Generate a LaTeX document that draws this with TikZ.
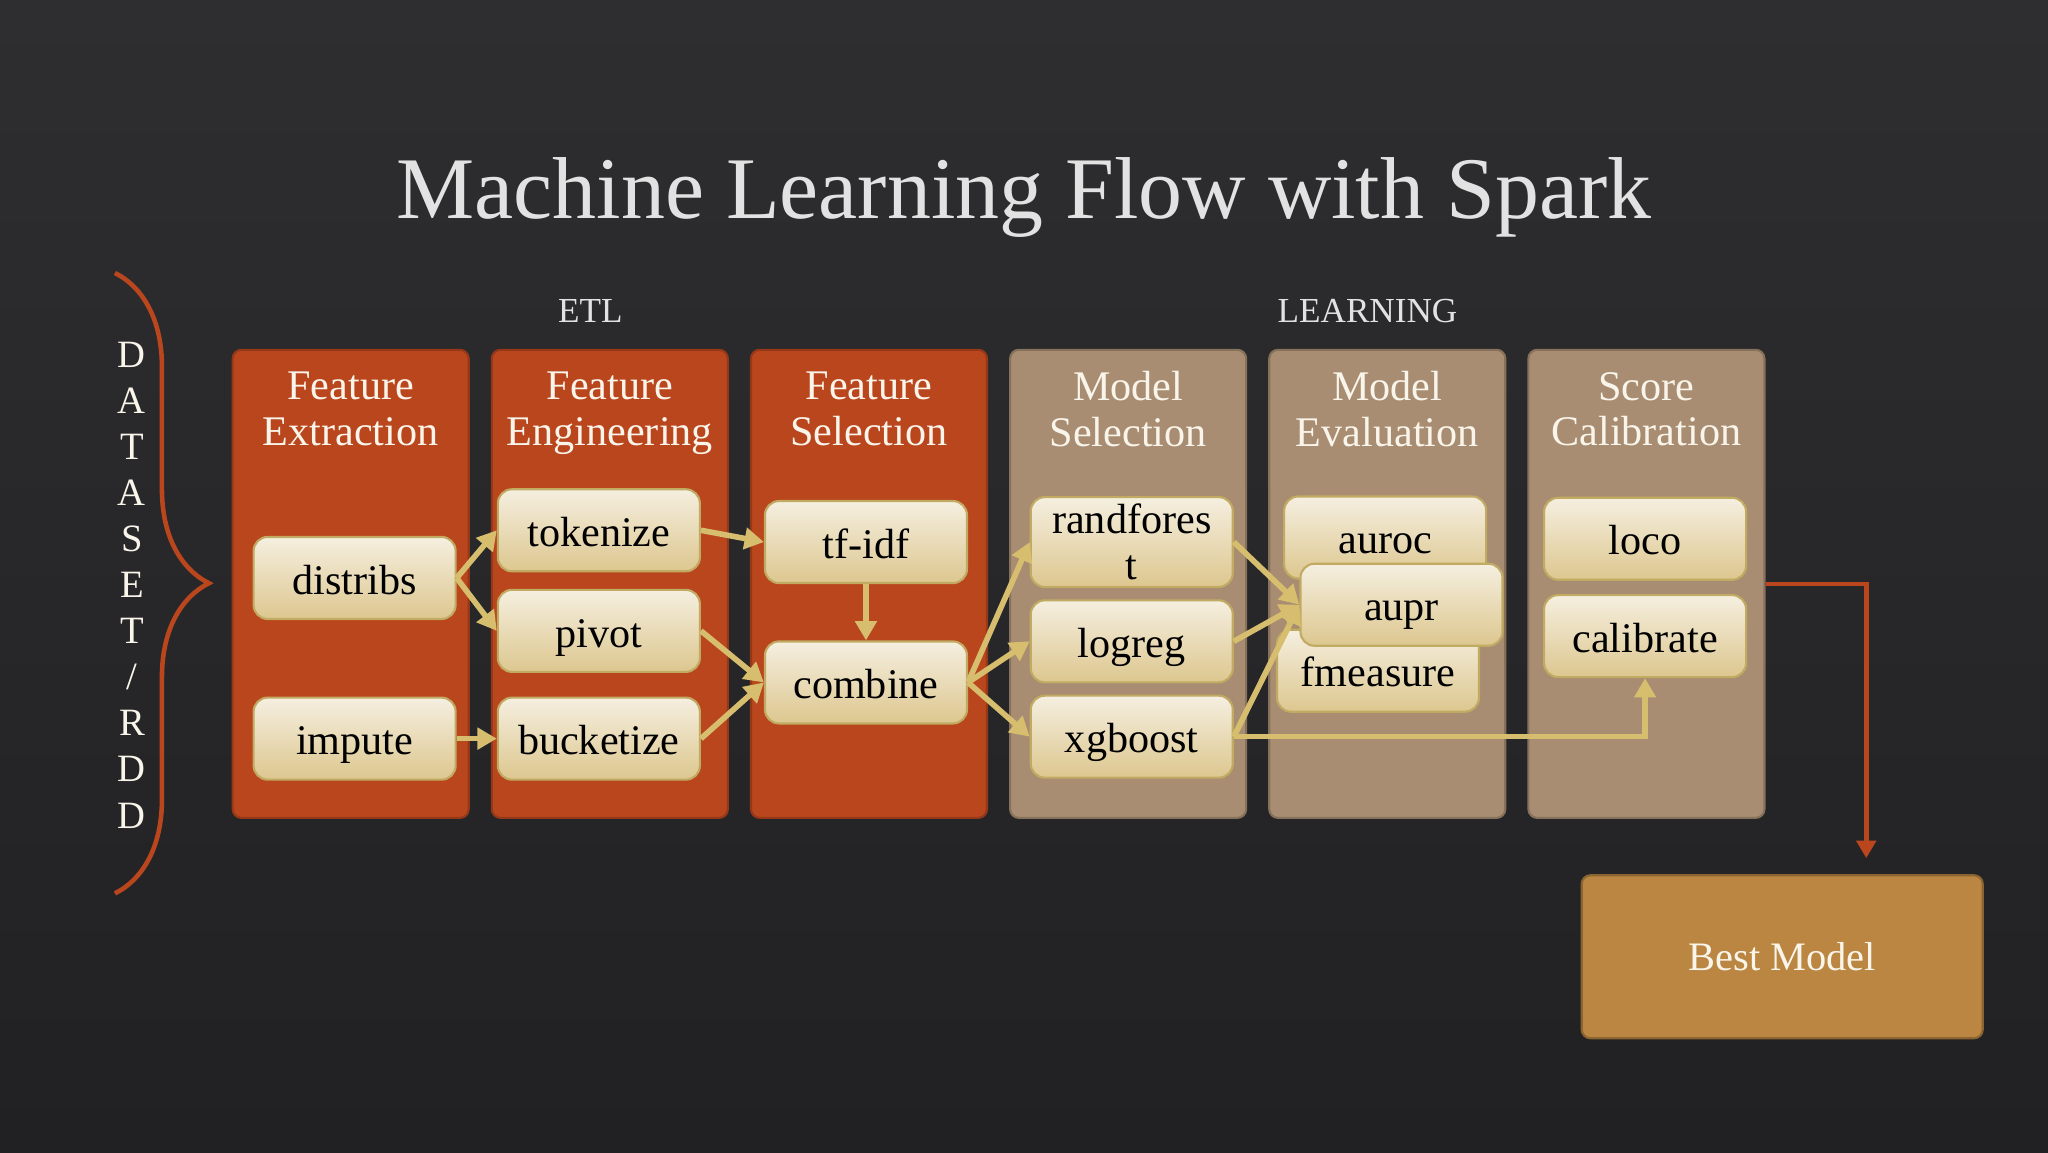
\documentclass[tikz,border=0pt]{standalone}
\usepackage{fontspec}
\setmainfont{Liberation Serif}
\usepackage{xcolor}
\usetikzlibrary{arrows.meta, positioning, decorations.pathreplacing, calc}
\definecolor{slidetop}{RGB}{46,46,48}
\definecolor{slidebot}{RGB}{33,33,35}
\definecolor{etlred}{RGB}{186,70,30}
\definecolor{learntan}{RGB}{168,141,114}
\definecolor{flowgold}{RGB}{214,190,110}
\definecolor{bestgold}{RGB}{186,134,66}
\definecolor{boxtop}{RGB}{245,239,224}
\definecolor{boxbot}{RGB}{221,199,143}
\definecolor{titlegray}{RGB}{226,226,226}
\definecolor{stagewhite}{RGB}{250,245,234}

\begin{document}
\begin{tikzpicture}[
  x=0.1306mm, y=-0.1306mm,
  every node/.style={font=\fontsize{12}{13}\selectfont},
  etl/.style={
    draw=etlred!80!black, fill=etlred, rounded corners=2.5pt,
    minimum width=23.6mm, minimum height=46.8mm, line width=0.6pt
  },
  learn/.style={etl, draw=learntan!80!black, fill=learntan},
  stagetitle/.style={text=stagewhite, align=center},
  group/.style={text=titlegray, font=\fontsize{10}{12}\selectfont, anchor=base},
  box/.style={
    draw=flowgold!90!black, top color=boxtop, bottom color=boxbot,
    rounded corners=4pt, minimum width=20.2mm, minimum height=8.2mm,
    align=center, line width=0.6pt, inner sep=2pt,
    text height=9.5pt, text depth=0.3pt
  },
  arrow/.style={-{Triangle[length=5.5pt, width=6pt]}, line width=1.6pt, color=flowgold},
  redarrow/.style={-{Triangle[length=5pt, width=5.5pt]}, line width=1.3pt, color=etlred}
]

  % Background
  \useasboundingbox (0,0) rectangle (1568,882);
  \shade[top color=slidetop, bottom color=slidebot] (0,0) rectangle (1568,882);

  % Title and groups
  \node[text=titlegray, font=\fontsize{25}{30}\selectfont, anchor=base] (title) at (784,167) {Machine Learning Flow with Spark};
  \node[group] (etlgroup) at (452,247) {ETL};
  \node[group] (learngroup) at (1047,247) {LEARNING};

  % Dataset brace
  \coordinate (bracetop) at (88,209);
  \coordinate (bracebot) at (88,684);
  \draw[decorate, decoration={brace, amplitude=9.4mm}, etlred, line width=1.3pt] (bracetop) -- (bracebot);
  \node[text=stagewhite, align=center, font=\fontsize{11}{13.1}\selectfont] (dataset) at (101,448) {D\\A\\T\\A\\S\\E\\T\\/\\R\\D\\D};

  % Stages
  \node[etl] (fext) at (268.5,447) {};
  \node[etl, right=2.1mm of fext] (feng) {};
  \node[etl, right=2.1mm of feng] (fsel) {};
  \node[learn, right=2.1mm of fsel] (msel) {};
  \node[learn, right=2.1mm of msel] (meval) {};
  \node[learn, right=2.1mm of meval] (scal) {};

  \node[stagetitle] (fexttitle) at ([yshift=-6.7mm]fext.north) {Feature\\Extraction\strut};
  \node[stagetitle] (fengtitle) at ([yshift=-6.7mm]feng.north) {Feature\\Engineering\strut};
  \node[stagetitle] (fseltitle) at ([yshift=-6.7mm]fsel.north) {Feature\\Selection\strut};
  \node[stagetitle] (mseltitle) at ([yshift=-6.7mm]msel.north) {Model\\Selection\strut};
  \node[stagetitle] (mevaltitle) at ([yshift=-6.7mm]meval.north) {Model\\Evaluation\strut};
  \node[stagetitle] (scaltitle) at ([yshift=-6.7mm]scal.north) {Score\\Calibration\strut};

  % Steps
  \node[box] (distribs) at (271.5,442.5) {distribs};
  \node[box] (impute) at (271.5,565.5) {impute};
  \node[box] (tokenize) at (458.5,406) {tokenize};
  \node[box] (pivot) at (458.5,483) {pivot};
  \node[box] (bucketize) at (458.5,565.5) {bucketize};
  \node[box] (tfidf) at (663,415) {tf-idf};
  \node[box] (combine) at (663,522.5) {combine};
  \node[box, text height=, text depth=] (randforest) at (866.5,415) {randfores\\t};
  \node[box] (logreg) at (866.5,491) {logreg};
  \node[box] (xgboost) at (866.5,564) {xgboost};
  \node[box] (auroc) at (1060.5,411.5) {auroc};
  \node[box] (fmeasure) at (1055,513.5) {fmeasure};
  \node[box] (aupr) at (1073,463) {aupr};
  \node[box] (loco) at (1259.5,412.5) {loco};
  \node[box] (calibrate) at (1259.5,487) {calibrate};

  \node[draw=bestgold!75!black, fill=bestgold, rounded corners=2.5pt, line width=0.6pt,
    minimum width=40.1mm, minimum height=16.3mm, text=stagewhite,
    font=\fontsize{11.5}{14}\selectfont] (best) at (1364.5,732.5) {Best Model};

  % ETL arrows
  \draw[arrow] (distribs.east) -- (tokenize.west);
  \draw[arrow] (distribs.east) -- (pivot.west);
  \draw[arrow] (impute.east) -- (bucketize.west);
  \draw[arrow] (tokenize.east) -- (tfidf.west);
  \draw[arrow] (pivot.east) -- (combine.west);
  \draw[arrow] (bucketize.east) -- (combine.west);
  \draw[arrow] (tfidf.south) -- (combine.north);

  % Learning arrows
  \draw[arrow] (combine.east) -- (randforest.west);
  \draw[arrow] (combine.east) -- (logreg.west);
  \draw[arrow] (combine.east) -- (xgboost.west);
  \draw[arrow] (randforest.east) -- (aupr.west);
  \draw[arrow] (logreg.east) -- (aupr.west);
  \draw[arrow] (xgboost.east) -- (aupr.west);
  \draw[arrow] (xgboost.east) -| (calibrate.south);

  % Output
  \draw[redarrow] (scal.east) -| ([xshift=8.4mm, yshift=1.6mm]best.north);

\end{tikzpicture}
\end{document}
